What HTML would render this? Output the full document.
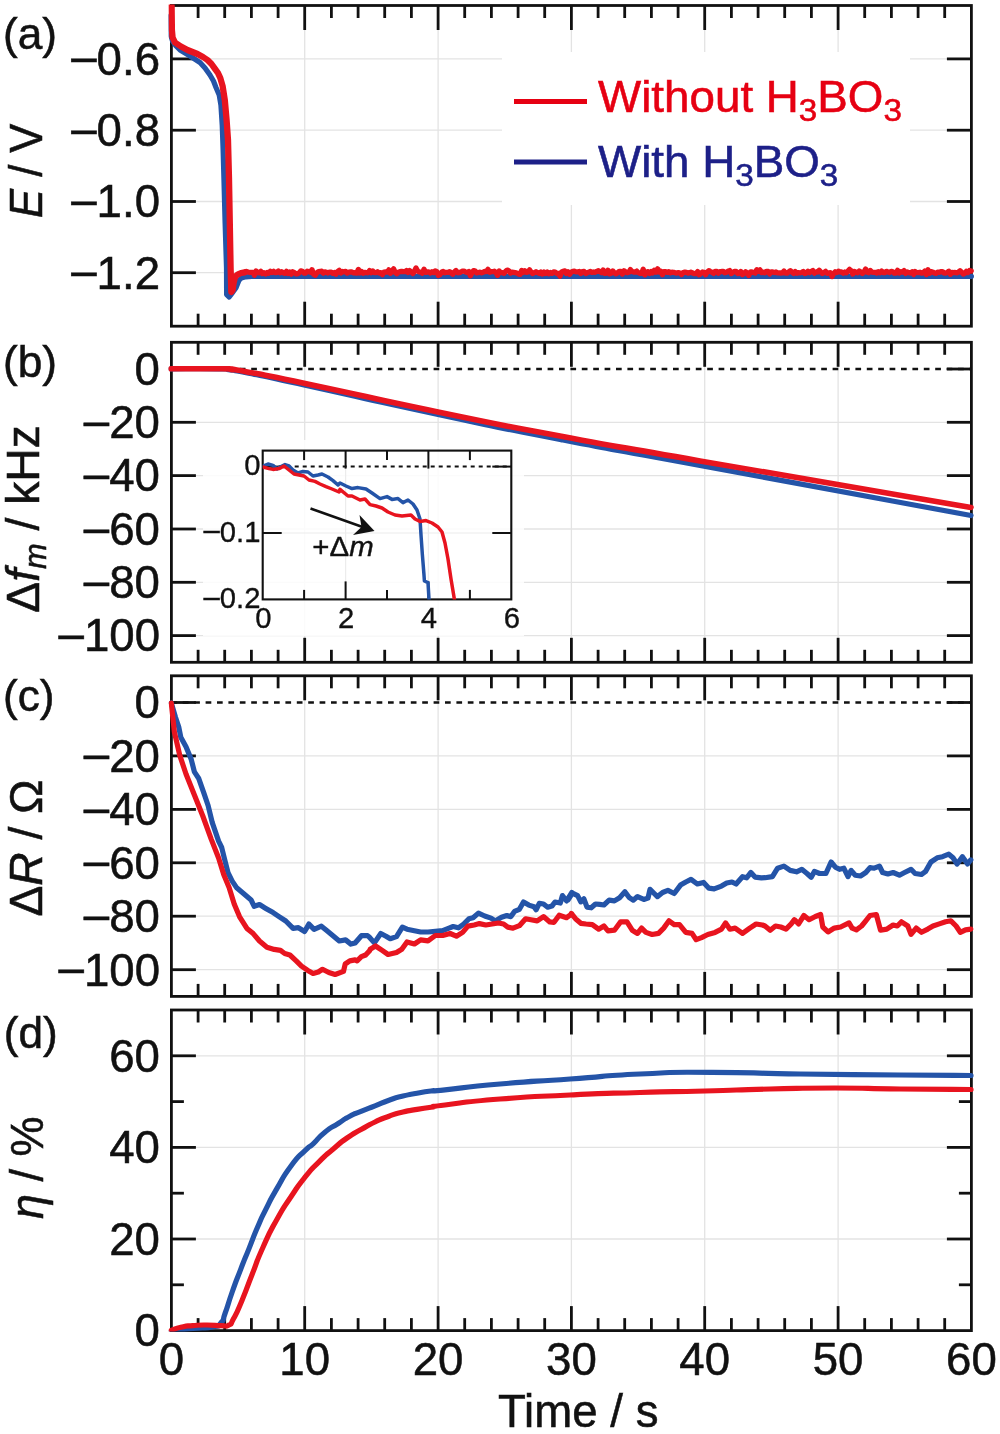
<!DOCTYPE html>
<html lang="en"><head><meta charset="utf-8"><title>Figure</title>
<style>html,body{margin:0;padding:0;background:#fff}svg{display:block;filter:blur(0.55px)}</style></head>
<body>
<svg width="1000" height="1434" viewBox="0 0 1000 1434" font-family="'Liberation Sans', sans-serif">
<rect width="1000" height="1434" fill="#fff"/>
<clipPath id="clipa"><rect x="168.4" y="4.5" width="806.0" height="322.7"/></clipPath>
<clipPath id="clipb"><rect x="168.4" y="341.3" width="806.0" height="322.0"/></clipPath>
<clipPath id="clipc"><rect x="168.4" y="674.8" width="806.0" height="322.6"/></clipPath>
<clipPath id="clipd"><rect x="168.4" y="1009.0" width="806.0" height="322.6"/></clipPath>
<line x1="304.7" y1="5.5" x2="304.7" y2="326.2" stroke="#e3e3e3" stroke-width="1.3" />
<line x1="438.1" y1="5.5" x2="438.1" y2="326.2" stroke="#e3e3e3" stroke-width="1.3" />
<line x1="571.4" y1="5.5" x2="571.4" y2="326.2" stroke="#e3e3e3" stroke-width="1.3" />
<line x1="704.7" y1="5.5" x2="704.7" y2="326.2" stroke="#e3e3e3" stroke-width="1.3" />
<line x1="838.1" y1="5.5" x2="838.1" y2="326.2" stroke="#e3e3e3" stroke-width="1.3" />
<line x1="171.4" y1="58.9" x2="971.4" y2="58.9" stroke="#e3e3e3" stroke-width="1.3" />
<line x1="171.4" y1="130.2" x2="971.4" y2="130.2" stroke="#e3e3e3" stroke-width="1.3" />
<line x1="171.4" y1="201.5" x2="971.4" y2="201.5" stroke="#e3e3e3" stroke-width="1.3" />
<line x1="171.4" y1="272.7" x2="971.4" y2="272.7" stroke="#e3e3e3" stroke-width="1.3" />
<rect x="502" y="52" width="408" height="153" fill="#fff"/>
<line x1="198.1" y1="326.2" x2="198.1" y2="313.7" stroke="#111111" stroke-width="2.8" />
<line x1="198.1" y1="5.5" x2="198.1" y2="18.0" stroke="#111111" stroke-width="2.8" />
<line x1="224.7" y1="326.2" x2="224.7" y2="313.7" stroke="#111111" stroke-width="2.8" />
<line x1="224.7" y1="5.5" x2="224.7" y2="18.0" stroke="#111111" stroke-width="2.8" />
<line x1="251.4" y1="326.2" x2="251.4" y2="313.7" stroke="#111111" stroke-width="2.8" />
<line x1="251.4" y1="5.5" x2="251.4" y2="18.0" stroke="#111111" stroke-width="2.8" />
<line x1="278.1" y1="326.2" x2="278.1" y2="313.7" stroke="#111111" stroke-width="2.8" />
<line x1="278.1" y1="5.5" x2="278.1" y2="18.0" stroke="#111111" stroke-width="2.8" />
<line x1="304.7" y1="326.2" x2="304.7" y2="301.7" stroke="#111111" stroke-width="2.8" />
<line x1="304.7" y1="5.5" x2="304.7" y2="30.0" stroke="#111111" stroke-width="2.8" />
<line x1="331.4" y1="326.2" x2="331.4" y2="313.7" stroke="#111111" stroke-width="2.8" />
<line x1="331.4" y1="5.5" x2="331.4" y2="18.0" stroke="#111111" stroke-width="2.8" />
<line x1="358.1" y1="326.2" x2="358.1" y2="313.7" stroke="#111111" stroke-width="2.8" />
<line x1="358.1" y1="5.5" x2="358.1" y2="18.0" stroke="#111111" stroke-width="2.8" />
<line x1="384.7" y1="326.2" x2="384.7" y2="313.7" stroke="#111111" stroke-width="2.8" />
<line x1="384.7" y1="5.5" x2="384.7" y2="18.0" stroke="#111111" stroke-width="2.8" />
<line x1="411.4" y1="326.2" x2="411.4" y2="313.7" stroke="#111111" stroke-width="2.8" />
<line x1="411.4" y1="5.5" x2="411.4" y2="18.0" stroke="#111111" stroke-width="2.8" />
<line x1="438.1" y1="326.2" x2="438.1" y2="301.7" stroke="#111111" stroke-width="2.8" />
<line x1="438.1" y1="5.5" x2="438.1" y2="30.0" stroke="#111111" stroke-width="2.8" />
<line x1="464.7" y1="326.2" x2="464.7" y2="313.7" stroke="#111111" stroke-width="2.8" />
<line x1="464.7" y1="5.5" x2="464.7" y2="18.0" stroke="#111111" stroke-width="2.8" />
<line x1="491.4" y1="326.2" x2="491.4" y2="313.7" stroke="#111111" stroke-width="2.8" />
<line x1="491.4" y1="5.5" x2="491.4" y2="18.0" stroke="#111111" stroke-width="2.8" />
<line x1="518.1" y1="326.2" x2="518.1" y2="313.7" stroke="#111111" stroke-width="2.8" />
<line x1="518.1" y1="5.5" x2="518.1" y2="18.0" stroke="#111111" stroke-width="2.8" />
<line x1="544.7" y1="326.2" x2="544.7" y2="313.7" stroke="#111111" stroke-width="2.8" />
<line x1="544.7" y1="5.5" x2="544.7" y2="18.0" stroke="#111111" stroke-width="2.8" />
<line x1="571.4" y1="326.2" x2="571.4" y2="301.7" stroke="#111111" stroke-width="2.8" />
<line x1="571.4" y1="5.5" x2="571.4" y2="30.0" stroke="#111111" stroke-width="2.8" />
<line x1="598.1" y1="326.2" x2="598.1" y2="313.7" stroke="#111111" stroke-width="2.8" />
<line x1="598.1" y1="5.5" x2="598.1" y2="18.0" stroke="#111111" stroke-width="2.8" />
<line x1="624.7" y1="326.2" x2="624.7" y2="313.7" stroke="#111111" stroke-width="2.8" />
<line x1="624.7" y1="5.5" x2="624.7" y2="18.0" stroke="#111111" stroke-width="2.8" />
<line x1="651.4" y1="326.2" x2="651.4" y2="313.7" stroke="#111111" stroke-width="2.8" />
<line x1="651.4" y1="5.5" x2="651.4" y2="18.0" stroke="#111111" stroke-width="2.8" />
<line x1="678.1" y1="326.2" x2="678.1" y2="313.7" stroke="#111111" stroke-width="2.8" />
<line x1="678.1" y1="5.5" x2="678.1" y2="18.0" stroke="#111111" stroke-width="2.8" />
<line x1="704.7" y1="326.2" x2="704.7" y2="301.7" stroke="#111111" stroke-width="2.8" />
<line x1="704.7" y1="5.5" x2="704.7" y2="30.0" stroke="#111111" stroke-width="2.8" />
<line x1="731.4" y1="326.2" x2="731.4" y2="313.7" stroke="#111111" stroke-width="2.8" />
<line x1="731.4" y1="5.5" x2="731.4" y2="18.0" stroke="#111111" stroke-width="2.8" />
<line x1="758.1" y1="326.2" x2="758.1" y2="313.7" stroke="#111111" stroke-width="2.8" />
<line x1="758.1" y1="5.5" x2="758.1" y2="18.0" stroke="#111111" stroke-width="2.8" />
<line x1="784.7" y1="326.2" x2="784.7" y2="313.7" stroke="#111111" stroke-width="2.8" />
<line x1="784.7" y1="5.5" x2="784.7" y2="18.0" stroke="#111111" stroke-width="2.8" />
<line x1="811.4" y1="326.2" x2="811.4" y2="313.7" stroke="#111111" stroke-width="2.8" />
<line x1="811.4" y1="5.5" x2="811.4" y2="18.0" stroke="#111111" stroke-width="2.8" />
<line x1="838.1" y1="326.2" x2="838.1" y2="301.7" stroke="#111111" stroke-width="2.8" />
<line x1="838.1" y1="5.5" x2="838.1" y2="30.0" stroke="#111111" stroke-width="2.8" />
<line x1="864.7" y1="326.2" x2="864.7" y2="313.7" stroke="#111111" stroke-width="2.8" />
<line x1="864.7" y1="5.5" x2="864.7" y2="18.0" stroke="#111111" stroke-width="2.8" />
<line x1="891.4" y1="326.2" x2="891.4" y2="313.7" stroke="#111111" stroke-width="2.8" />
<line x1="891.4" y1="5.5" x2="891.4" y2="18.0" stroke="#111111" stroke-width="2.8" />
<line x1="918.1" y1="326.2" x2="918.1" y2="313.7" stroke="#111111" stroke-width="2.8" />
<line x1="918.1" y1="5.5" x2="918.1" y2="18.0" stroke="#111111" stroke-width="2.8" />
<line x1="944.7" y1="326.2" x2="944.7" y2="313.7" stroke="#111111" stroke-width="2.8" />
<line x1="944.7" y1="5.5" x2="944.7" y2="18.0" stroke="#111111" stroke-width="2.8" />
<line x1="171.4" y1="58.9" x2="195.9" y2="58.9" stroke="#111111" stroke-width="2.8" />
<line x1="971.4" y1="58.9" x2="946.9" y2="58.9" stroke="#111111" stroke-width="2.8" />
<line x1="171.4" y1="130.2" x2="195.9" y2="130.2" stroke="#111111" stroke-width="2.8" />
<line x1="971.4" y1="130.2" x2="946.9" y2="130.2" stroke="#111111" stroke-width="2.8" />
<line x1="171.4" y1="201.5" x2="195.9" y2="201.5" stroke="#111111" stroke-width="2.8" />
<line x1="971.4" y1="201.5" x2="946.9" y2="201.5" stroke="#111111" stroke-width="2.8" />
<line x1="171.4" y1="272.7" x2="195.9" y2="272.7" stroke="#111111" stroke-width="2.8" />
<line x1="971.4" y1="272.7" x2="946.9" y2="272.7" stroke="#111111" stroke-width="2.8" />
<rect x="171.4" y="5.5" width="800.0" height="320.7" fill="none" stroke="#111111" stroke-width="2.8"/>
<text transform="translate(160.0 74.7) scale(0.975 1)" font-size="46.8" text-anchor="end" fill="#111111" stroke="#111111" stroke-width="0.55" ><tspan dy="-2.3">–</tspan><tspan dy="2.3">0.6</tspan></text>
<text transform="translate(160.0 146.0) scale(0.975 1)" font-size="46.8" text-anchor="end" fill="#111111" stroke="#111111" stroke-width="0.55" ><tspan dy="-2.3">–</tspan><tspan dy="2.3">0.8</tspan></text>
<text transform="translate(160.0 217.3) scale(0.975 1)" font-size="46.8" text-anchor="end" fill="#111111" stroke="#111111" stroke-width="0.55" ><tspan dy="-2.3">–</tspan><tspan dy="2.3">1.0</tspan></text>
<text transform="translate(160.0 288.5) scale(0.975 1)" font-size="46.8" text-anchor="end" fill="#111111" stroke="#111111" stroke-width="0.55" ><tspan dy="-2.3">–</tspan><tspan dy="2.3">1.2</tspan></text>
<g clip-path="url(#clipa)">
<polyline points="170.8,15.6 171.0,36.0 172.5,41.0 176.0,46.0 180.0,50.0 190.0,56.0 200.0,62.5 205.0,68.0 210.0,75.0 213.5,81.0 216.0,87.5 219.2,95.0 220.9,105.0 222.2,125.0 223.1,150.0 223.9,178.5 225.1,223.0 226.5,268.0 226.6,294.6 229.2,297.0 231.0,294.6 235.9,288.0 238.9,280.5 241.4,278.0 245.7,276.8 251.7,276.3 257.7,276.3 263.7,276.3 269.7,276.3 275.7,276.3 281.7,276.3 287.7,276.3 293.7,276.3 299.7,276.3 305.7,276.3 311.7,276.3 317.7,276.3 323.7,276.3 329.7,276.3 335.7,276.3 341.7,276.3 347.7,276.3 353.7,276.3 359.7,276.3 365.7,276.3 371.7,276.3 377.7,276.3 383.7,276.3 389.7,276.3 395.7,276.3 401.7,276.3 407.7,276.3 413.7,276.3 419.7,276.3 425.7,276.3 431.7,276.3 437.7,276.3 443.7,276.3 449.7,276.3 455.7,276.3 461.7,276.3 467.7,276.3 473.7,276.3 479.7,276.3 485.7,276.3 491.7,276.3 497.7,276.3 503.7,276.3 509.7,276.3 515.7,276.3 521.7,276.3 527.7,276.3 533.7,276.3 539.7,276.3 545.7,276.3 551.7,276.3 557.7,276.3 563.7,276.3 569.7,276.3 575.7,276.3 581.7,276.3 587.7,276.3 593.7,276.3 599.7,276.3 605.7,276.3 611.7,276.3 617.7,276.3 623.7,276.3 629.7,276.3 635.7,276.3 641.7,276.3 647.7,276.3 653.7,276.3 659.7,276.3 665.7,276.3 671.7,276.3 677.7,276.3 683.7,276.3 689.7,276.3 695.7,276.3 701.7,276.3 707.7,276.3 713.7,276.3 719.7,276.3 725.7,276.3 731.7,276.3 737.7,276.3 743.7,276.3 749.7,276.3 755.7,276.3 761.7,276.3 767.7,276.3 773.7,276.3 779.7,276.3 785.7,276.3 791.7,276.3 797.7,276.3 803.7,276.3 809.7,276.3 815.7,276.3 821.7,276.3 827.7,276.3 833.7,276.3 839.7,276.3 845.7,276.3 851.7,276.3 857.7,276.3 863.7,276.3 869.7,276.3 875.7,276.3 881.7,276.3 887.7,276.3 893.7,276.3 899.7,276.3 905.7,276.3 911.7,276.3 917.7,276.3 923.7,276.3 929.7,276.3 935.7,276.3 941.7,276.3 947.7,276.3 953.7,276.3 959.7,276.3 965.7,276.3 971.4,276.3" fill="none" stroke="#2454a8" stroke-width="5.2" stroke-linejoin="round" stroke-linecap="round" />
<polyline points="171.6,5.6 171.9,30.0 172.6,37.5 175.0,42.5 181.0,46.5 187.5,50.0 197.5,54.0 203.0,57.0 207.5,60.0 211.5,64.0 215.0,68.8 218.0,73.0 220.3,78.0 222.6,86.0 224.8,100.0 226.6,120.0 228.0,140.0 229.0,178.5 229.8,223.0 230.6,268.0 231.3,292.0 232.6,290.0 233.6,283.0 234.8,277.8 236.3,275.5 238.1,274.3 241.0,273.0 244.8,272.3" fill="none" stroke="#e8141f" stroke-width="6.3" stroke-linejoin="round" stroke-linecap="round" />
<polyline points="244.8,272.3 246.4,271.4 248.0,272.0 249.6,272.3 251.2,272.3 252.8,272.5 254.4,275.2 256.0,270.9 257.6,272.4 259.2,272.9 260.8,271.4 262.4,273.6 264.0,272.8 265.6,274.0 267.2,272.5 268.8,273.2 270.4,271.2 272.0,272.5 273.6,271.3 275.2,272.6 276.8,272.5 278.4,271.0 280.0,272.7 281.6,271.6 283.2,272.7 284.8,273.3 286.4,271.4 288.0,273.5 289.6,272.1 291.2,274.1 292.8,271.8 294.4,272.6 296.0,273.8 297.6,273.8 299.2,272.9 300.8,270.9 302.4,271.3 304.0,273.1 305.6,273.0 307.2,271.2 308.8,271.6 310.4,272.2 312.0,269.7 313.6,274.3 315.2,275.2 316.8,272.9 318.4,271.7 320.0,271.5 321.6,271.2 323.2,273.2 324.8,271.8 326.4,272.3 328.0,273.0 329.6,272.1 331.2,272.2 332.8,273.4 334.4,272.4 336.0,274.3 337.6,271.5 339.2,270.3 340.8,273.0 342.4,271.5 344.0,271.8 345.6,271.4 347.2,273.1 348.8,272.2 350.4,272.0 352.0,272.0 353.6,272.8 355.2,272.6 356.8,273.1 358.4,269.4 360.0,272.9 361.6,271.5 363.2,273.3 364.8,272.3 366.4,272.7 368.0,272.8 369.6,270.6 371.2,272.7 372.8,271.0 374.4,272.7 376.0,272.7 377.6,271.7 379.2,273.0 380.8,272.7 382.4,274.6 384.0,272.2 385.6,272.0 387.2,272.2 388.8,269.9 390.4,273.3 392.0,270.8 393.6,268.8 395.2,272.4 396.8,273.7 398.4,272.3 400.0,271.6 401.6,271.3 403.2,271.6 404.8,271.7 406.4,270.6 408.0,272.4 409.6,270.6 411.2,271.8 412.8,273.6 414.4,271.4 416.0,267.9 417.6,270.9 419.2,271.9 420.8,272.2 422.4,273.2 424.0,269.3 425.6,272.4 427.2,271.9 428.8,271.9 430.4,273.0 432.0,271.8 433.6,272.6 435.2,270.9 436.8,271.7 438.4,275.4 440.0,274.6 441.6,272.2 443.2,271.4 444.8,272.8 446.4,272.3 448.0,272.4 449.6,271.6 451.2,272.9 452.8,274.3 454.4,272.0 456.0,270.5 457.6,272.8 459.2,272.7 460.8,272.0 462.4,271.2 464.0,271.1 465.6,272.0 467.2,272.5 468.8,271.5 470.4,275.7 472.0,272.9 473.6,270.6 475.2,271.1 476.8,272.9 478.4,272.5 480.0,272.2 481.6,272.8 483.2,272.2 484.8,271.3 486.4,271.6 488.0,269.4 489.6,272.2 491.2,271.7 492.8,271.7 494.4,271.2 496.0,272.6 497.6,275.3 499.2,270.9 500.8,272.7 502.4,272.6 504.0,273.3 505.6,271.4 507.2,270.1 508.8,270.7 510.4,273.1 512.0,272.2 513.6,272.4 515.2,272.6 516.8,273.0 518.4,273.9 520.0,274.4 521.6,270.5 523.2,272.5 524.8,270.8 526.4,272.4 528.0,272.0 529.6,269.9 531.2,272.3 532.8,273.6 534.4,272.6 536.0,271.7 537.6,272.7 539.2,273.5 540.8,272.1 542.4,274.0 544.0,272.1 545.6,273.4 547.2,272.1 548.8,273.8 550.4,272.5 552.0,273.4 553.6,271.8 555.2,272.1 556.8,273.6 558.4,273.4 560.0,276.1 561.6,271.9 563.2,271.3 564.8,270.9 566.4,273.5 568.0,271.9 569.6,274.3 571.2,272.2 572.8,271.4 574.4,271.2 576.0,271.9 577.6,271.8 579.2,271.5 580.8,273.5 582.4,271.6 584.0,271.4 585.6,273.5 587.2,272.8 588.8,272.1 590.4,271.4 592.0,272.4 593.6,272.0 595.2,272.3 596.8,271.4 598.4,270.7 600.0,271.8 601.6,272.7 603.2,270.0 604.8,273.3 606.4,273.1 608.0,270.2 609.6,273.8 611.2,273.2 612.8,271.0 614.4,273.0 616.0,273.8 617.6,272.7 619.2,271.4 620.8,271.4 622.4,274.0 624.0,270.8 625.6,271.9 627.2,272.8 628.8,272.3 630.4,269.6 632.0,271.5 633.6,272.0 635.2,272.2 636.8,271.1 638.4,272.6 640.0,273.3 641.6,273.4 643.2,269.2 644.8,274.9 646.4,272.0 648.0,271.7 649.6,273.5 651.2,271.6 652.8,272.9 654.4,270.2 656.0,272.2 657.6,268.8 659.2,272.0 660.8,271.3 662.4,274.7 664.0,271.7 665.6,271.7 667.2,272.5 668.8,271.6 670.4,272.8 672.0,272.2 673.6,272.3 675.2,272.8 676.8,273.0 678.4,272.6 680.0,273.0 681.6,274.5 683.2,272.5 684.8,272.1 686.4,272.4 688.0,273.2 689.6,272.5 691.2,272.2 692.8,273.1 694.4,273.7 696.0,273.5 697.6,271.6 699.2,274.7 700.8,273.2 702.4,272.0 704.0,272.4 705.6,274.6 707.2,272.1 708.8,270.6 710.4,271.6 712.0,272.3 713.6,273.4 715.2,271.3 716.8,271.4 718.4,273.3 720.0,271.6 721.6,271.5 723.2,271.3 724.8,272.8 726.4,272.4 728.0,271.3 729.6,270.6 731.2,273.6 732.8,272.5 734.4,271.3 736.0,271.3 737.6,273.6 739.2,273.4 740.8,271.5 742.4,274.6 744.0,273.5 745.6,271.7 747.2,273.3 748.8,275.4 750.4,272.0 752.0,272.0 753.6,272.5 755.2,273.1 756.8,269.7 758.4,271.3 760.0,269.9 761.6,272.6 763.2,272.2 764.8,272.8 766.4,271.3 768.0,271.4 769.6,273.9 771.2,272.0 772.8,272.0 774.4,272.5 776.0,271.9 777.6,272.9 779.2,272.8 780.8,273.0 782.4,272.9 784.0,271.1 785.6,273.0 787.2,273.1 788.8,271.9 790.4,270.7 792.0,272.2 793.6,273.4 795.2,271.6 796.8,273.2 798.4,272.6 800.0,272.8 801.6,272.5 803.2,271.5 804.8,273.5 806.4,273.2 808.0,271.2 809.6,272.7 811.2,271.5 812.8,270.6 814.4,273.2 816.0,272.0 817.6,272.1 819.2,270.3 820.8,272.1 822.4,273.6 824.0,272.6 825.6,271.4 827.2,273.4 828.8,272.8 830.4,272.7 832.0,276.6 833.6,273.5 835.2,271.8 836.8,272.6 838.4,271.1 840.0,272.0 841.6,272.0 843.2,273.2 844.8,272.0 846.4,272.8 848.0,271.1 849.6,269.4 851.2,270.8 852.8,274.0 854.4,271.5 856.0,272.2 857.6,272.8 859.2,271.1 860.8,272.1 862.4,273.5 864.0,272.1 865.6,269.0 867.2,272.2 868.8,272.7 870.4,270.5 872.0,272.1 873.6,272.3 875.2,272.3 876.8,273.0 878.4,271.6 880.0,272.7 881.6,271.1 883.2,272.5 884.8,272.7 886.4,271.3 888.0,271.9 889.6,272.5 891.2,271.3 892.8,271.8 894.4,273.2 896.0,273.2 897.6,270.4 899.2,272.9 900.8,271.7 902.4,272.1 904.0,270.6 905.6,273.5 907.2,271.9 908.8,272.6 910.4,273.0 912.0,271.9 913.6,274.4 915.2,271.6 916.8,272.7 918.4,272.6 920.0,272.2 921.6,273.2 923.2,272.7 924.8,271.1 926.4,274.5 928.0,269.8 929.6,273.3 931.2,271.7 932.8,272.0 934.4,273.0 936.0,273.3 937.6,272.1 939.2,272.3 940.8,271.7 942.4,271.6 944.0,272.9 945.6,273.1 947.2,272.4 948.8,271.3 950.4,274.3 952.0,272.5 953.6,272.7 955.2,272.5 956.8,272.9 958.4,272.1 960.0,270.8 961.6,272.3 963.2,274.1 964.8,273.4 966.4,271.2 968.0,272.6 969.6,270.5 971.2,271.0" fill="none" stroke="#e8141f" stroke-width="5.3" stroke-linejoin="round" stroke-linecap="round" />
</g>
<line x1="514.0" y1="101.6" x2="587.0" y2="101.6" stroke="#e60012" stroke-width="5" />
<line x1="514.0" y1="162.0" x2="587.0" y2="162.0" stroke="#1d2088" stroke-width="5" />
<text transform="translate(598.0 112.0) scale(1.040 1)" font-size="44" text-anchor="start" fill="#e60012" stroke="#e60012" stroke-width="0.55" >Without H<tspan font-size="32" dy="8.5">3</tspan><tspan dy="-8.5">BO</tspan><tspan font-size="32" dy="8.5">3</tspan></text>
<text transform="translate(598.0 177.0) scale(1.040 1)" font-size="44" text-anchor="start" fill="#1d2088" stroke="#1d2088" stroke-width="0.55" >With H<tspan font-size="32" dy="8.5">3</tspan><tspan dy="-8.5">BO</tspan><tspan font-size="32" dy="8.5">3</tspan></text>
<line x1="304.7" y1="342.3" x2="304.7" y2="662.3" stroke="#e3e3e3" stroke-width="1.3" />
<line x1="438.1" y1="342.3" x2="438.1" y2="662.3" stroke="#e3e3e3" stroke-width="1.3" />
<line x1="571.4" y1="342.3" x2="571.4" y2="662.3" stroke="#e3e3e3" stroke-width="1.3" />
<line x1="704.7" y1="342.3" x2="704.7" y2="662.3" stroke="#e3e3e3" stroke-width="1.3" />
<line x1="838.1" y1="342.3" x2="838.1" y2="662.3" stroke="#e3e3e3" stroke-width="1.3" />
<line x1="171.4" y1="422.3" x2="971.4" y2="422.3" stroke="#e3e3e3" stroke-width="1.3" />
<line x1="171.4" y1="475.6" x2="971.4" y2="475.6" stroke="#e3e3e3" stroke-width="1.3" />
<line x1="171.4" y1="529.0" x2="971.4" y2="529.0" stroke="#e3e3e3" stroke-width="1.3" />
<line x1="171.4" y1="582.3" x2="971.4" y2="582.3" stroke="#e3e3e3" stroke-width="1.3" />
<line x1="171.4" y1="635.6" x2="971.4" y2="635.6" stroke="#e3e3e3" stroke-width="1.3" />
<line x1="198.1" y1="662.3" x2="198.1" y2="649.8" stroke="#111111" stroke-width="2.8" />
<line x1="198.1" y1="342.3" x2="198.1" y2="354.8" stroke="#111111" stroke-width="2.8" />
<line x1="224.7" y1="662.3" x2="224.7" y2="649.8" stroke="#111111" stroke-width="2.8" />
<line x1="224.7" y1="342.3" x2="224.7" y2="354.8" stroke="#111111" stroke-width="2.8" />
<line x1="251.4" y1="662.3" x2="251.4" y2="649.8" stroke="#111111" stroke-width="2.8" />
<line x1="251.4" y1="342.3" x2="251.4" y2="354.8" stroke="#111111" stroke-width="2.8" />
<line x1="278.1" y1="662.3" x2="278.1" y2="649.8" stroke="#111111" stroke-width="2.8" />
<line x1="278.1" y1="342.3" x2="278.1" y2="354.8" stroke="#111111" stroke-width="2.8" />
<line x1="304.7" y1="662.3" x2="304.7" y2="637.8" stroke="#111111" stroke-width="2.8" />
<line x1="304.7" y1="342.3" x2="304.7" y2="366.8" stroke="#111111" stroke-width="2.8" />
<line x1="331.4" y1="662.3" x2="331.4" y2="649.8" stroke="#111111" stroke-width="2.8" />
<line x1="331.4" y1="342.3" x2="331.4" y2="354.8" stroke="#111111" stroke-width="2.8" />
<line x1="358.1" y1="662.3" x2="358.1" y2="649.8" stroke="#111111" stroke-width="2.8" />
<line x1="358.1" y1="342.3" x2="358.1" y2="354.8" stroke="#111111" stroke-width="2.8" />
<line x1="384.7" y1="662.3" x2="384.7" y2="649.8" stroke="#111111" stroke-width="2.8" />
<line x1="384.7" y1="342.3" x2="384.7" y2="354.8" stroke="#111111" stroke-width="2.8" />
<line x1="411.4" y1="662.3" x2="411.4" y2="649.8" stroke="#111111" stroke-width="2.8" />
<line x1="411.4" y1="342.3" x2="411.4" y2="354.8" stroke="#111111" stroke-width="2.8" />
<line x1="438.1" y1="662.3" x2="438.1" y2="637.8" stroke="#111111" stroke-width="2.8" />
<line x1="438.1" y1="342.3" x2="438.1" y2="366.8" stroke="#111111" stroke-width="2.8" />
<line x1="464.7" y1="662.3" x2="464.7" y2="649.8" stroke="#111111" stroke-width="2.8" />
<line x1="464.7" y1="342.3" x2="464.7" y2="354.8" stroke="#111111" stroke-width="2.8" />
<line x1="491.4" y1="662.3" x2="491.4" y2="649.8" stroke="#111111" stroke-width="2.8" />
<line x1="491.4" y1="342.3" x2="491.4" y2="354.8" stroke="#111111" stroke-width="2.8" />
<line x1="518.1" y1="662.3" x2="518.1" y2="649.8" stroke="#111111" stroke-width="2.8" />
<line x1="518.1" y1="342.3" x2="518.1" y2="354.8" stroke="#111111" stroke-width="2.8" />
<line x1="544.7" y1="662.3" x2="544.7" y2="649.8" stroke="#111111" stroke-width="2.8" />
<line x1="544.7" y1="342.3" x2="544.7" y2="354.8" stroke="#111111" stroke-width="2.8" />
<line x1="571.4" y1="662.3" x2="571.4" y2="637.8" stroke="#111111" stroke-width="2.8" />
<line x1="571.4" y1="342.3" x2="571.4" y2="366.8" stroke="#111111" stroke-width="2.8" />
<line x1="598.1" y1="662.3" x2="598.1" y2="649.8" stroke="#111111" stroke-width="2.8" />
<line x1="598.1" y1="342.3" x2="598.1" y2="354.8" stroke="#111111" stroke-width="2.8" />
<line x1="624.7" y1="662.3" x2="624.7" y2="649.8" stroke="#111111" stroke-width="2.8" />
<line x1="624.7" y1="342.3" x2="624.7" y2="354.8" stroke="#111111" stroke-width="2.8" />
<line x1="651.4" y1="662.3" x2="651.4" y2="649.8" stroke="#111111" stroke-width="2.8" />
<line x1="651.4" y1="342.3" x2="651.4" y2="354.8" stroke="#111111" stroke-width="2.8" />
<line x1="678.1" y1="662.3" x2="678.1" y2="649.8" stroke="#111111" stroke-width="2.8" />
<line x1="678.1" y1="342.3" x2="678.1" y2="354.8" stroke="#111111" stroke-width="2.8" />
<line x1="704.7" y1="662.3" x2="704.7" y2="637.8" stroke="#111111" stroke-width="2.8" />
<line x1="704.7" y1="342.3" x2="704.7" y2="366.8" stroke="#111111" stroke-width="2.8" />
<line x1="731.4" y1="662.3" x2="731.4" y2="649.8" stroke="#111111" stroke-width="2.8" />
<line x1="731.4" y1="342.3" x2="731.4" y2="354.8" stroke="#111111" stroke-width="2.8" />
<line x1="758.1" y1="662.3" x2="758.1" y2="649.8" stroke="#111111" stroke-width="2.8" />
<line x1="758.1" y1="342.3" x2="758.1" y2="354.8" stroke="#111111" stroke-width="2.8" />
<line x1="784.7" y1="662.3" x2="784.7" y2="649.8" stroke="#111111" stroke-width="2.8" />
<line x1="784.7" y1="342.3" x2="784.7" y2="354.8" stroke="#111111" stroke-width="2.8" />
<line x1="811.4" y1="662.3" x2="811.4" y2="649.8" stroke="#111111" stroke-width="2.8" />
<line x1="811.4" y1="342.3" x2="811.4" y2="354.8" stroke="#111111" stroke-width="2.8" />
<line x1="838.1" y1="662.3" x2="838.1" y2="637.8" stroke="#111111" stroke-width="2.8" />
<line x1="838.1" y1="342.3" x2="838.1" y2="366.8" stroke="#111111" stroke-width="2.8" />
<line x1="864.7" y1="662.3" x2="864.7" y2="649.8" stroke="#111111" stroke-width="2.8" />
<line x1="864.7" y1="342.3" x2="864.7" y2="354.8" stroke="#111111" stroke-width="2.8" />
<line x1="891.4" y1="662.3" x2="891.4" y2="649.8" stroke="#111111" stroke-width="2.8" />
<line x1="891.4" y1="342.3" x2="891.4" y2="354.8" stroke="#111111" stroke-width="2.8" />
<line x1="918.1" y1="662.3" x2="918.1" y2="649.8" stroke="#111111" stroke-width="2.8" />
<line x1="918.1" y1="342.3" x2="918.1" y2="354.8" stroke="#111111" stroke-width="2.8" />
<line x1="944.7" y1="662.3" x2="944.7" y2="649.8" stroke="#111111" stroke-width="2.8" />
<line x1="944.7" y1="342.3" x2="944.7" y2="354.8" stroke="#111111" stroke-width="2.8" />
<line x1="171.4" y1="369.0" x2="195.9" y2="369.0" stroke="#111111" stroke-width="2.8" />
<line x1="971.4" y1="369.0" x2="946.9" y2="369.0" stroke="#111111" stroke-width="2.8" />
<line x1="171.4" y1="422.3" x2="195.9" y2="422.3" stroke="#111111" stroke-width="2.8" />
<line x1="971.4" y1="422.3" x2="946.9" y2="422.3" stroke="#111111" stroke-width="2.8" />
<line x1="171.4" y1="475.6" x2="195.9" y2="475.6" stroke="#111111" stroke-width="2.8" />
<line x1="971.4" y1="475.6" x2="946.9" y2="475.6" stroke="#111111" stroke-width="2.8" />
<line x1="171.4" y1="529.0" x2="195.9" y2="529.0" stroke="#111111" stroke-width="2.8" />
<line x1="971.4" y1="529.0" x2="946.9" y2="529.0" stroke="#111111" stroke-width="2.8" />
<line x1="171.4" y1="582.3" x2="195.9" y2="582.3" stroke="#111111" stroke-width="2.8" />
<line x1="971.4" y1="582.3" x2="946.9" y2="582.3" stroke="#111111" stroke-width="2.8" />
<line x1="171.4" y1="635.6" x2="195.9" y2="635.6" stroke="#111111" stroke-width="2.8" />
<line x1="971.4" y1="635.6" x2="946.9" y2="635.6" stroke="#111111" stroke-width="2.8" />
<rect x="171.4" y="342.3" width="800.0" height="320.0" fill="none" stroke="#111111" stroke-width="2.8"/>
<text transform="translate(160.0 384.8) scale(0.975 1)" font-size="46.8" text-anchor="end" fill="#111111" stroke="#111111" stroke-width="0.55" >0</text>
<text transform="translate(160.0 438.1) scale(0.975 1)" font-size="46.8" text-anchor="end" fill="#111111" stroke="#111111" stroke-width="0.55" ><tspan dy="-2.3">–</tspan><tspan dy="2.3">20</tspan></text>
<text transform="translate(160.0 491.4) scale(0.975 1)" font-size="46.8" text-anchor="end" fill="#111111" stroke="#111111" stroke-width="0.55" ><tspan dy="-2.3">–</tspan><tspan dy="2.3">40</tspan></text>
<text transform="translate(160.0 544.8) scale(0.975 1)" font-size="46.8" text-anchor="end" fill="#111111" stroke="#111111" stroke-width="0.55" ><tspan dy="-2.3">–</tspan><tspan dy="2.3">60</tspan></text>
<text transform="translate(160.0 598.1) scale(0.975 1)" font-size="46.8" text-anchor="end" fill="#111111" stroke="#111111" stroke-width="0.55" ><tspan dy="-2.3">–</tspan><tspan dy="2.3">80</tspan></text>
<text transform="translate(160.0 651.4) scale(0.975 1)" font-size="46.8" text-anchor="end" fill="#111111" stroke="#111111" stroke-width="0.55" ><tspan dy="-2.3">–</tspan><tspan dy="2.3">100</tspan></text>
<g clip-path="url(#clipb)">
<line x1="171.4" y1="369.0" x2="971.4" y2="369.0" stroke="#111111" stroke-width="2.6" stroke-dasharray="5.7 5.7"/>
<path d="M171.0,368.8 C186.7,368.8 198.3,368.4 218.0,368.8 C237.7,369.2 221.0,368.8 230.0,370.0 C239.0,371.2 220.3,367.5 245.0,372.5 C269.7,377.5 239.7,371.0 304.0,385.0 C368.3,399.0 352.7,396.3 438.0,414.5 C523.3,432.7 472.7,422.5 560.0,439.5 C647.3,456.5 563.0,440.1 700.0,465.4 C837.0,490.7 880.7,498.8 971.0,515.5" fill="none" stroke="#2454a8" stroke-width="5.2" stroke-linejoin="round" stroke-linecap="round" />
<path d="M171.0,368.8 C188.0,368.8 201.7,368.5 222.0,368.8 C242.3,369.1 224.3,368.7 232.0,369.6 C239.7,370.5 221.0,367.0 245.0,371.5 C269.0,376.0 239.7,369.7 304.0,383.2 C368.3,396.7 352.7,394.4 438.0,412.0 C523.3,429.6 472.7,419.7 560.0,436.0 C647.3,452.3 563.0,437.1 700.0,460.9 C837.0,484.7 880.7,491.9 971.0,507.4" fill="none" stroke="#e8141f" stroke-width="5.6" stroke-linejoin="round" stroke-linecap="round" />
</g>
<rect x="203" y="440" width="321" height="196" fill="#fff" fill-opacity="0.85"/>
<line x1="345.6" y1="450.6" x2="345.6" y2="599.4" stroke="#ececec" stroke-width="1.2" />
<line x1="428.4" y1="450.6" x2="428.4" y2="599.4" stroke="#ececec" stroke-width="1.2" />
<line x1="262.7" y1="533.0" x2="511.3" y2="533.0" stroke="#ececec" stroke-width="1.2" />
<clipPath id="clipi"><rect x="262.7" y="450.6" width="248.6" height="148.8"/></clipPath>
<line x1="304.1" y1="599.4" x2="304.1" y2="589.9" stroke="#111111" stroke-width="2.0" />
<line x1="304.1" y1="450.6" x2="304.1" y2="460.1" stroke="#111111" stroke-width="2.0" />
<line x1="345.6" y1="599.4" x2="345.6" y2="581.4" stroke="#111111" stroke-width="2.0" />
<line x1="345.6" y1="450.6" x2="345.6" y2="468.6" stroke="#111111" stroke-width="2.0" />
<line x1="387.0" y1="599.4" x2="387.0" y2="589.9" stroke="#111111" stroke-width="2.0" />
<line x1="387.0" y1="450.6" x2="387.0" y2="460.1" stroke="#111111" stroke-width="2.0" />
<line x1="428.4" y1="599.4" x2="428.4" y2="581.4" stroke="#111111" stroke-width="2.0" />
<line x1="428.4" y1="450.6" x2="428.4" y2="468.6" stroke="#111111" stroke-width="2.0" />
<line x1="469.9" y1="599.4" x2="469.9" y2="589.9" stroke="#111111" stroke-width="2.0" />
<line x1="469.9" y1="450.6" x2="469.9" y2="460.1" stroke="#111111" stroke-width="2.0" />
<line x1="262.7" y1="466.6" x2="281.7" y2="466.6" stroke="#111111" stroke-width="2.0" />
<line x1="511.3" y1="466.6" x2="492.3" y2="466.6" stroke="#111111" stroke-width="2.0" />
<line x1="262.7" y1="533.0" x2="281.7" y2="533.0" stroke="#111111" stroke-width="2.0" />
<line x1="511.3" y1="533.0" x2="492.3" y2="533.0" stroke="#111111" stroke-width="2.0" />
<rect x="262.7" y="450.6" width="248.6" height="148.8" fill="none" stroke="#111111" stroke-width="2.1"/>
<g clip-path="url(#clipi)">
<line x1="262.7" y1="466.6" x2="511.3" y2="466.6" stroke="#111111" stroke-width="2.0" stroke-dasharray="4 4"/>
<polyline points="263.0,466.0 268.0,464.0 273.0,465.4 277.0,469.0 280.0,467.0 285.0,464.6 289.0,466.0 293.0,470.0 298.0,473.0 303.0,471.4 308.0,472.0 313.0,476.0 318.0,475.0 322.0,474.0 328.0,477.0 333.0,480.6 338.0,485.0 340.0,483.0 346.0,486.0 352.0,488.6 358.0,487.6 366.0,489.0 372.0,493.0 380.0,498.6 387.0,496.6 392.0,499.4 398.0,498.6 403.0,502.6 408.0,500.0 413.0,504.0 417.0,510.0 420.0,519.0 421.0,535.0 422.4,555.0 424.0,575.0 424.4,581.0 428.0,582.6 429.0,599.4" fill="none" stroke="#2454a8" stroke-width="3.5" stroke-linejoin="round" stroke-linecap="round" />
<polyline points="263.0,467.0 269.0,468.6 273.0,469.4 279.0,468.6 284.0,466.0 289.0,470.0 294.0,474.0 299.0,475.0 304.0,476.0 309.0,480.0 315.0,481.4 320.0,484.0 326.0,486.6 332.0,489.0 339.0,492.0 340.0,489.4 348.0,496.0 352.0,496.0 360.0,500.0 365.0,499.0 370.0,504.6 376.0,506.0 382.0,508.0 388.0,512.0 395.0,515.0 402.0,516.0 411.0,515.0 415.0,519.0 420.0,521.4 426.0,520.6 432.0,523.0 438.0,527.0 442.0,532.0 445.0,543.0 448.0,559.0 451.0,579.0 454.4,599.4" fill="none" stroke="#e8141f" stroke-width="3.5" stroke-linejoin="round" stroke-linecap="round" />
</g>
<text transform="translate(260.5 474.5) scale(0.975 1)" font-size="30" text-anchor="end" fill="#111111" stroke="#111111" stroke-width="0.35" >0</text>
<text transform="translate(260.5 541.5) scale(0.975 1)" font-size="30" text-anchor="end" fill="#111111" stroke="#111111" stroke-width="0.35" ><tspan dy="-1.5">–</tspan><tspan dy="1.5">0.1</tspan></text>
<text transform="translate(260.5 608.2) scale(0.975 1)" font-size="30" text-anchor="end" fill="#111111" stroke="#111111" stroke-width="0.35" ><tspan dy="-1.5">–</tspan><tspan dy="1.5">0.2</tspan></text>
<text transform="translate(263.3 628.2) scale(0.975 1)" font-size="30" text-anchor="middle" fill="#111111" stroke="#111111" stroke-width="0.35" >0</text>
<text transform="translate(346.2 628.2) scale(0.975 1)" font-size="30" text-anchor="middle" fill="#111111" stroke="#111111" stroke-width="0.35" >2</text>
<text transform="translate(429.0 628.2) scale(0.975 1)" font-size="30" text-anchor="middle" fill="#111111" stroke="#111111" stroke-width="0.35" >4</text>
<text transform="translate(511.9 628.2) scale(0.975 1)" font-size="30" text-anchor="middle" fill="#111111" stroke="#111111" stroke-width="0.35" >6</text>
<line x1="310.5" y1="508.5" x2="364.0" y2="527.5" stroke="#111111" stroke-width="2.5" />
<polygon points="374.5,531 353,535 361.5,527 359.5,515" fill="#111111"/>
<text transform="translate(312.3 556.2) scale(1.090 1)" font-size="27" text-anchor="start" fill="#111111" stroke="#111111" stroke-width="0.35" >+Δ<tspan font-style="italic">m</tspan></text>
<line x1="304.7" y1="675.8" x2="304.7" y2="996.4" stroke="#e3e3e3" stroke-width="1.3" />
<line x1="438.1" y1="675.8" x2="438.1" y2="996.4" stroke="#e3e3e3" stroke-width="1.3" />
<line x1="571.4" y1="675.8" x2="571.4" y2="996.4" stroke="#e3e3e3" stroke-width="1.3" />
<line x1="704.7" y1="675.8" x2="704.7" y2="996.4" stroke="#e3e3e3" stroke-width="1.3" />
<line x1="838.1" y1="675.8" x2="838.1" y2="996.4" stroke="#e3e3e3" stroke-width="1.3" />
<line x1="171.4" y1="755.9" x2="971.4" y2="755.9" stroke="#e3e3e3" stroke-width="1.3" />
<line x1="171.4" y1="809.4" x2="971.4" y2="809.4" stroke="#e3e3e3" stroke-width="1.3" />
<line x1="171.4" y1="862.8" x2="971.4" y2="862.8" stroke="#e3e3e3" stroke-width="1.3" />
<line x1="171.4" y1="916.2" x2="971.4" y2="916.2" stroke="#e3e3e3" stroke-width="1.3" />
<line x1="171.4" y1="969.7" x2="971.4" y2="969.7" stroke="#e3e3e3" stroke-width="1.3" />
<line x1="198.1" y1="996.4" x2="198.1" y2="983.9" stroke="#111111" stroke-width="2.8" />
<line x1="198.1" y1="675.8" x2="198.1" y2="688.3" stroke="#111111" stroke-width="2.8" />
<line x1="224.7" y1="996.4" x2="224.7" y2="983.9" stroke="#111111" stroke-width="2.8" />
<line x1="224.7" y1="675.8" x2="224.7" y2="688.3" stroke="#111111" stroke-width="2.8" />
<line x1="251.4" y1="996.4" x2="251.4" y2="983.9" stroke="#111111" stroke-width="2.8" />
<line x1="251.4" y1="675.8" x2="251.4" y2="688.3" stroke="#111111" stroke-width="2.8" />
<line x1="278.1" y1="996.4" x2="278.1" y2="983.9" stroke="#111111" stroke-width="2.8" />
<line x1="278.1" y1="675.8" x2="278.1" y2="688.3" stroke="#111111" stroke-width="2.8" />
<line x1="304.7" y1="996.4" x2="304.7" y2="971.9" stroke="#111111" stroke-width="2.8" />
<line x1="304.7" y1="675.8" x2="304.7" y2="700.3" stroke="#111111" stroke-width="2.8" />
<line x1="331.4" y1="996.4" x2="331.4" y2="983.9" stroke="#111111" stroke-width="2.8" />
<line x1="331.4" y1="675.8" x2="331.4" y2="688.3" stroke="#111111" stroke-width="2.8" />
<line x1="358.1" y1="996.4" x2="358.1" y2="983.9" stroke="#111111" stroke-width="2.8" />
<line x1="358.1" y1="675.8" x2="358.1" y2="688.3" stroke="#111111" stroke-width="2.8" />
<line x1="384.7" y1="996.4" x2="384.7" y2="983.9" stroke="#111111" stroke-width="2.8" />
<line x1="384.7" y1="675.8" x2="384.7" y2="688.3" stroke="#111111" stroke-width="2.8" />
<line x1="411.4" y1="996.4" x2="411.4" y2="983.9" stroke="#111111" stroke-width="2.8" />
<line x1="411.4" y1="675.8" x2="411.4" y2="688.3" stroke="#111111" stroke-width="2.8" />
<line x1="438.1" y1="996.4" x2="438.1" y2="971.9" stroke="#111111" stroke-width="2.8" />
<line x1="438.1" y1="675.8" x2="438.1" y2="700.3" stroke="#111111" stroke-width="2.8" />
<line x1="464.7" y1="996.4" x2="464.7" y2="983.9" stroke="#111111" stroke-width="2.8" />
<line x1="464.7" y1="675.8" x2="464.7" y2="688.3" stroke="#111111" stroke-width="2.8" />
<line x1="491.4" y1="996.4" x2="491.4" y2="983.9" stroke="#111111" stroke-width="2.8" />
<line x1="491.4" y1="675.8" x2="491.4" y2="688.3" stroke="#111111" stroke-width="2.8" />
<line x1="518.1" y1="996.4" x2="518.1" y2="983.9" stroke="#111111" stroke-width="2.8" />
<line x1="518.1" y1="675.8" x2="518.1" y2="688.3" stroke="#111111" stroke-width="2.8" />
<line x1="544.7" y1="996.4" x2="544.7" y2="983.9" stroke="#111111" stroke-width="2.8" />
<line x1="544.7" y1="675.8" x2="544.7" y2="688.3" stroke="#111111" stroke-width="2.8" />
<line x1="571.4" y1="996.4" x2="571.4" y2="971.9" stroke="#111111" stroke-width="2.8" />
<line x1="571.4" y1="675.8" x2="571.4" y2="700.3" stroke="#111111" stroke-width="2.8" />
<line x1="598.1" y1="996.4" x2="598.1" y2="983.9" stroke="#111111" stroke-width="2.8" />
<line x1="598.1" y1="675.8" x2="598.1" y2="688.3" stroke="#111111" stroke-width="2.8" />
<line x1="624.7" y1="996.4" x2="624.7" y2="983.9" stroke="#111111" stroke-width="2.8" />
<line x1="624.7" y1="675.8" x2="624.7" y2="688.3" stroke="#111111" stroke-width="2.8" />
<line x1="651.4" y1="996.4" x2="651.4" y2="983.9" stroke="#111111" stroke-width="2.8" />
<line x1="651.4" y1="675.8" x2="651.4" y2="688.3" stroke="#111111" stroke-width="2.8" />
<line x1="678.1" y1="996.4" x2="678.1" y2="983.9" stroke="#111111" stroke-width="2.8" />
<line x1="678.1" y1="675.8" x2="678.1" y2="688.3" stroke="#111111" stroke-width="2.8" />
<line x1="704.7" y1="996.4" x2="704.7" y2="971.9" stroke="#111111" stroke-width="2.8" />
<line x1="704.7" y1="675.8" x2="704.7" y2="700.3" stroke="#111111" stroke-width="2.8" />
<line x1="731.4" y1="996.4" x2="731.4" y2="983.9" stroke="#111111" stroke-width="2.8" />
<line x1="731.4" y1="675.8" x2="731.4" y2="688.3" stroke="#111111" stroke-width="2.8" />
<line x1="758.1" y1="996.4" x2="758.1" y2="983.9" stroke="#111111" stroke-width="2.8" />
<line x1="758.1" y1="675.8" x2="758.1" y2="688.3" stroke="#111111" stroke-width="2.8" />
<line x1="784.7" y1="996.4" x2="784.7" y2="983.9" stroke="#111111" stroke-width="2.8" />
<line x1="784.7" y1="675.8" x2="784.7" y2="688.3" stroke="#111111" stroke-width="2.8" />
<line x1="811.4" y1="996.4" x2="811.4" y2="983.9" stroke="#111111" stroke-width="2.8" />
<line x1="811.4" y1="675.8" x2="811.4" y2="688.3" stroke="#111111" stroke-width="2.8" />
<line x1="838.1" y1="996.4" x2="838.1" y2="971.9" stroke="#111111" stroke-width="2.8" />
<line x1="838.1" y1="675.8" x2="838.1" y2="700.3" stroke="#111111" stroke-width="2.8" />
<line x1="864.7" y1="996.4" x2="864.7" y2="983.9" stroke="#111111" stroke-width="2.8" />
<line x1="864.7" y1="675.8" x2="864.7" y2="688.3" stroke="#111111" stroke-width="2.8" />
<line x1="891.4" y1="996.4" x2="891.4" y2="983.9" stroke="#111111" stroke-width="2.8" />
<line x1="891.4" y1="675.8" x2="891.4" y2="688.3" stroke="#111111" stroke-width="2.8" />
<line x1="918.1" y1="996.4" x2="918.1" y2="983.9" stroke="#111111" stroke-width="2.8" />
<line x1="918.1" y1="675.8" x2="918.1" y2="688.3" stroke="#111111" stroke-width="2.8" />
<line x1="944.7" y1="996.4" x2="944.7" y2="983.9" stroke="#111111" stroke-width="2.8" />
<line x1="944.7" y1="675.8" x2="944.7" y2="688.3" stroke="#111111" stroke-width="2.8" />
<line x1="171.4" y1="702.5" x2="195.9" y2="702.5" stroke="#111111" stroke-width="2.8" />
<line x1="971.4" y1="702.5" x2="946.9" y2="702.5" stroke="#111111" stroke-width="2.8" />
<line x1="171.4" y1="755.9" x2="195.9" y2="755.9" stroke="#111111" stroke-width="2.8" />
<line x1="971.4" y1="755.9" x2="946.9" y2="755.9" stroke="#111111" stroke-width="2.8" />
<line x1="171.4" y1="809.4" x2="195.9" y2="809.4" stroke="#111111" stroke-width="2.8" />
<line x1="971.4" y1="809.4" x2="946.9" y2="809.4" stroke="#111111" stroke-width="2.8" />
<line x1="171.4" y1="862.8" x2="195.9" y2="862.8" stroke="#111111" stroke-width="2.8" />
<line x1="971.4" y1="862.8" x2="946.9" y2="862.8" stroke="#111111" stroke-width="2.8" />
<line x1="171.4" y1="916.2" x2="195.9" y2="916.2" stroke="#111111" stroke-width="2.8" />
<line x1="971.4" y1="916.2" x2="946.9" y2="916.2" stroke="#111111" stroke-width="2.8" />
<line x1="171.4" y1="969.7" x2="195.9" y2="969.7" stroke="#111111" stroke-width="2.8" />
<line x1="971.4" y1="969.7" x2="946.9" y2="969.7" stroke="#111111" stroke-width="2.8" />
<rect x="171.4" y="675.8" width="800.0" height="320.6" fill="none" stroke="#111111" stroke-width="2.8"/>
<text transform="translate(160.0 718.3) scale(0.975 1)" font-size="46.8" text-anchor="end" fill="#111111" stroke="#111111" stroke-width="0.55" >0</text>
<text transform="translate(160.0 771.7) scale(0.975 1)" font-size="46.8" text-anchor="end" fill="#111111" stroke="#111111" stroke-width="0.55" ><tspan dy="-2.3">–</tspan><tspan dy="2.3">20</tspan></text>
<text transform="translate(160.0 825.2) scale(0.975 1)" font-size="46.8" text-anchor="end" fill="#111111" stroke="#111111" stroke-width="0.55" ><tspan dy="-2.3">–</tspan><tspan dy="2.3">40</tspan></text>
<text transform="translate(160.0 878.6) scale(0.975 1)" font-size="46.8" text-anchor="end" fill="#111111" stroke="#111111" stroke-width="0.55" ><tspan dy="-2.3">–</tspan><tspan dy="2.3">60</tspan></text>
<text transform="translate(160.0 932.0) scale(0.975 1)" font-size="46.8" text-anchor="end" fill="#111111" stroke="#111111" stroke-width="0.55" ><tspan dy="-2.3">–</tspan><tspan dy="2.3">80</tspan></text>
<text transform="translate(160.0 985.5) scale(0.975 1)" font-size="46.8" text-anchor="end" fill="#111111" stroke="#111111" stroke-width="0.55" ><tspan dy="-2.3">–</tspan><tspan dy="2.3">100</tspan></text>
<g clip-path="url(#clipc)">
<line x1="171.4" y1="702.5" x2="971.4" y2="702.5" stroke="#111111" stroke-width="2.6" stroke-dasharray="5.7 5.7"/>
<polyline points="171.3,703.0 175.5,717.3 178.7,726.8 180.8,737.2 186.0,746.7 191.2,759.3 194.4,771.9 198.6,778.2 203.8,792.9 208.1,805.5 212.2,822.3 218.6,841.2 221.7,847.5 224.8,860.1 228.0,872.7 232.2,881.1 236.4,887.4 243.8,893.7 251.1,900.0 254.2,906.3 259.5,904.6 265.8,908.4 273.1,912.6 279.4,916.8 285.8,921.0 293.1,928.4 298.4,927.7 304.6,931.5 308.9,924.1 314.1,929.4 321.4,926.2 326.7,930.5 333.0,935.7 339.3,941.0 345.6,939.9 350.9,944.1 355.1,943.0 361.4,935.7 367.6,935.7 369.2,937.0 374.4,942.9 380.8,933.5 386.0,936.2 390.2,938.7 396.5,936.6 402.4,927.1 407.0,929.2 414.4,930.7 420.6,932.0 428.0,932.0 435.4,931.4 442.7,930.7 449.0,928.2 453.2,926.5 458.4,927.8 463.7,924.0 468.9,918.8 473.1,917.7 478.4,913.1 484.7,916.0 491.0,918.1 495.2,920.9 501.5,917.3 506.8,915.6 510.9,916.6 514.5,911.4 519.4,909.3 523.5,902.0 528.8,905.1 534.0,906.8 536.1,909.7 539.3,903.4 543.5,904.0 547.7,907.2 551.9,906.1 555.0,902.0 560.3,903.0 562.4,895.6 566.6,900.9 571.9,892.5 568.1,899.8 572.4,893.1 577.6,895.6 580.8,901.9 583.9,898.8 587.0,907.1 591.2,907.8 595.5,904.0 599.6,904.4 603.9,905.0 609.1,900.2 614.4,900.9 619.6,897.7 624.9,891.8 629.0,897.3 633.2,900.2 637.5,896.6 643.8,899.4 648.0,898.1 650.0,889.3 654.2,893.5 657.4,896.6 662.6,892.5 667.9,890.4 674.2,893.5 680.5,885.1 685.8,882.0 691.0,879.4 697.3,884.0 703.6,882.4 708.9,888.2 714.1,888.9 721.5,886.1 726.7,883.0 732.0,882.0 736.1,884.0 742.5,876.7 746.6,877.8 750.9,872.5 755.0,877.1 761.4,877.8 765.0,877.7 772.4,876.6 777.6,868.2 783.9,866.1 790.2,870.4 796.5,871.8 801.8,869.3 807.0,873.5 811.2,877.3 814.4,871.4 819.6,873.5 825.9,873.5 831.1,862.0 835.4,867.2 839.5,869.3 843.8,868.2 848.0,876.6 851.1,870.4 855.3,875.2 860.5,876.0 865.8,872.5 870.0,867.6 874.2,868.2 879.5,866.1 882.6,872.5 887.9,873.9 893.1,872.5 899.4,875.2 904.6,872.5 911.0,869.3 915.1,873.5 921.5,874.5 925.6,871.4 930.9,862.0 937.2,857.8 942.5,856.7 948.8,854.2 953.0,857.8 957.1,864.0 962.4,856.7 967.6,864.0 970.8,859.9" fill="none" stroke="#2454a8" stroke-width="5.2" stroke-linejoin="round" stroke-linecap="round" />
<polyline points="171.3,703.0 174.4,732.0 179.7,755.1 186.0,774.0 194.4,795.0 202.8,816.0 211.2,839.1 218.6,858.0 223.8,874.8 229.1,887.4 234.3,904.2 239.6,916.8 246.9,928.4 253.2,933.6 259.5,941.0 266.9,947.2 274.2,949.4 280.5,950.4 284.7,953.5 289.9,955.0 296.2,960.9 301.5,966.1 307.8,970.4 313.1,973.5 318.3,972.0 322.5,969.3 328.8,972.5 335.1,974.5 343.5,971.4 345.2,964.0 349.8,960.9 355.1,959.9 357.1,960.9 361.4,956.7 365.6,955.0 369.8,950.4 370.2,949.2 375.5,946.0 381.8,950.2 388.1,954.5 396.5,952.4 401.8,949.2 407.0,941.9 414.4,944.0 420.6,939.8 428.0,940.8 435.4,935.5 442.7,935.5 450.1,933.5 456.4,936.2 462.6,932.4 467.9,926.1 474.2,925.0 479.4,923.6 485.8,925.0 492.1,924.0 498.4,923.0 503.6,924.0 507.8,927.1 513.0,928.2 519.4,925.7 525.6,918.8 530.9,919.8 537.2,920.9 543.5,916.6 549.8,921.9 554.0,922.3 559.2,915.2 566.6,917.7 571.9,913.9 571.3,913.5 575.5,918.7 580.8,923.3 586.0,924.0 592.3,924.6 598.6,929.2 603.9,926.0 608.0,930.9 614.4,930.2 620.6,921.9 627.0,921.9 632.2,930.2 637.5,933.4 641.6,928.1 645.9,932.4 652.1,934.5 658.5,933.4 663.7,928.1 669.0,920.8 674.2,924.6 679.5,924.6 685.8,932.4 692.0,933.4 696.2,939.7 701.5,937.6 707.8,934.5 715.1,932.4 721.5,929.2 725.6,922.9 729.9,929.2 735.1,928.1 742.5,933.4 749.8,928.1 756.1,924.0 762.4,925.0 765.0,926.0 770.2,930.2 775.5,926.0 780.8,927.0 786.0,929.1 791.2,923.9 794.4,919.7 798.6,923.9 803.9,915.5 809.1,919.7 815.4,916.5 820.6,914.5 822.8,927.0 828.0,931.9 834.3,928.1 840.6,927.0 849.0,922.9 852.1,928.1 856.4,929.8 861.6,926.0 865.8,920.8 870.0,915.5 876.3,914.5 880.5,930.2 886.8,929.1 893.1,925.0 897.3,926.0 901.5,921.8 907.8,926.0 911.0,934.4 916.2,928.1 921.5,932.3 927.8,929.1 933.0,926.0 939.3,923.9 945.6,921.8 950.9,920.8 956.1,926.0 960.3,932.3 965.5,929.8 970.8,929.1" fill="none" stroke="#e8141f" stroke-width="5.2" stroke-linejoin="round" stroke-linecap="round" />
</g>
<line x1="304.7" y1="1010.0" x2="304.7" y2="1330.6" stroke="#e3e3e3" stroke-width="1.3" />
<line x1="438.1" y1="1010.0" x2="438.1" y2="1330.6" stroke="#e3e3e3" stroke-width="1.3" />
<line x1="571.4" y1="1010.0" x2="571.4" y2="1330.6" stroke="#e3e3e3" stroke-width="1.3" />
<line x1="704.7" y1="1010.0" x2="704.7" y2="1330.6" stroke="#e3e3e3" stroke-width="1.3" />
<line x1="838.1" y1="1010.0" x2="838.1" y2="1330.6" stroke="#e3e3e3" stroke-width="1.3" />
<line x1="171.4" y1="1239.0" x2="971.4" y2="1239.0" stroke="#e3e3e3" stroke-width="1.3" />
<line x1="171.4" y1="1147.4" x2="971.4" y2="1147.4" stroke="#e3e3e3" stroke-width="1.3" />
<line x1="171.4" y1="1055.8" x2="971.4" y2="1055.8" stroke="#e3e3e3" stroke-width="1.3" />
<line x1="198.1" y1="1330.6" x2="198.1" y2="1318.1" stroke="#111111" stroke-width="2.8" />
<line x1="198.1" y1="1010.0" x2="198.1" y2="1022.5" stroke="#111111" stroke-width="2.8" />
<line x1="224.7" y1="1330.6" x2="224.7" y2="1318.1" stroke="#111111" stroke-width="2.8" />
<line x1="224.7" y1="1010.0" x2="224.7" y2="1022.5" stroke="#111111" stroke-width="2.8" />
<line x1="251.4" y1="1330.6" x2="251.4" y2="1318.1" stroke="#111111" stroke-width="2.8" />
<line x1="251.4" y1="1010.0" x2="251.4" y2="1022.5" stroke="#111111" stroke-width="2.8" />
<line x1="278.1" y1="1330.6" x2="278.1" y2="1318.1" stroke="#111111" stroke-width="2.8" />
<line x1="278.1" y1="1010.0" x2="278.1" y2="1022.5" stroke="#111111" stroke-width="2.8" />
<line x1="304.7" y1="1330.6" x2="304.7" y2="1306.1" stroke="#111111" stroke-width="2.8" />
<line x1="304.7" y1="1010.0" x2="304.7" y2="1034.5" stroke="#111111" stroke-width="2.8" />
<line x1="331.4" y1="1330.6" x2="331.4" y2="1318.1" stroke="#111111" stroke-width="2.8" />
<line x1="331.4" y1="1010.0" x2="331.4" y2="1022.5" stroke="#111111" stroke-width="2.8" />
<line x1="358.1" y1="1330.6" x2="358.1" y2="1318.1" stroke="#111111" stroke-width="2.8" />
<line x1="358.1" y1="1010.0" x2="358.1" y2="1022.5" stroke="#111111" stroke-width="2.8" />
<line x1="384.7" y1="1330.6" x2="384.7" y2="1318.1" stroke="#111111" stroke-width="2.8" />
<line x1="384.7" y1="1010.0" x2="384.7" y2="1022.5" stroke="#111111" stroke-width="2.8" />
<line x1="411.4" y1="1330.6" x2="411.4" y2="1318.1" stroke="#111111" stroke-width="2.8" />
<line x1="411.4" y1="1010.0" x2="411.4" y2="1022.5" stroke="#111111" stroke-width="2.8" />
<line x1="438.1" y1="1330.6" x2="438.1" y2="1306.1" stroke="#111111" stroke-width="2.8" />
<line x1="438.1" y1="1010.0" x2="438.1" y2="1034.5" stroke="#111111" stroke-width="2.8" />
<line x1="464.7" y1="1330.6" x2="464.7" y2="1318.1" stroke="#111111" stroke-width="2.8" />
<line x1="464.7" y1="1010.0" x2="464.7" y2="1022.5" stroke="#111111" stroke-width="2.8" />
<line x1="491.4" y1="1330.6" x2="491.4" y2="1318.1" stroke="#111111" stroke-width="2.8" />
<line x1="491.4" y1="1010.0" x2="491.4" y2="1022.5" stroke="#111111" stroke-width="2.8" />
<line x1="518.1" y1="1330.6" x2="518.1" y2="1318.1" stroke="#111111" stroke-width="2.8" />
<line x1="518.1" y1="1010.0" x2="518.1" y2="1022.5" stroke="#111111" stroke-width="2.8" />
<line x1="544.7" y1="1330.6" x2="544.7" y2="1318.1" stroke="#111111" stroke-width="2.8" />
<line x1="544.7" y1="1010.0" x2="544.7" y2="1022.5" stroke="#111111" stroke-width="2.8" />
<line x1="571.4" y1="1330.6" x2="571.4" y2="1306.1" stroke="#111111" stroke-width="2.8" />
<line x1="571.4" y1="1010.0" x2="571.4" y2="1034.5" stroke="#111111" stroke-width="2.8" />
<line x1="598.1" y1="1330.6" x2="598.1" y2="1318.1" stroke="#111111" stroke-width="2.8" />
<line x1="598.1" y1="1010.0" x2="598.1" y2="1022.5" stroke="#111111" stroke-width="2.8" />
<line x1="624.7" y1="1330.6" x2="624.7" y2="1318.1" stroke="#111111" stroke-width="2.8" />
<line x1="624.7" y1="1010.0" x2="624.7" y2="1022.5" stroke="#111111" stroke-width="2.8" />
<line x1="651.4" y1="1330.6" x2="651.4" y2="1318.1" stroke="#111111" stroke-width="2.8" />
<line x1="651.4" y1="1010.0" x2="651.4" y2="1022.5" stroke="#111111" stroke-width="2.8" />
<line x1="678.1" y1="1330.6" x2="678.1" y2="1318.1" stroke="#111111" stroke-width="2.8" />
<line x1="678.1" y1="1010.0" x2="678.1" y2="1022.5" stroke="#111111" stroke-width="2.8" />
<line x1="704.7" y1="1330.6" x2="704.7" y2="1306.1" stroke="#111111" stroke-width="2.8" />
<line x1="704.7" y1="1010.0" x2="704.7" y2="1034.5" stroke="#111111" stroke-width="2.8" />
<line x1="731.4" y1="1330.6" x2="731.4" y2="1318.1" stroke="#111111" stroke-width="2.8" />
<line x1="731.4" y1="1010.0" x2="731.4" y2="1022.5" stroke="#111111" stroke-width="2.8" />
<line x1="758.1" y1="1330.6" x2="758.1" y2="1318.1" stroke="#111111" stroke-width="2.8" />
<line x1="758.1" y1="1010.0" x2="758.1" y2="1022.5" stroke="#111111" stroke-width="2.8" />
<line x1="784.7" y1="1330.6" x2="784.7" y2="1318.1" stroke="#111111" stroke-width="2.8" />
<line x1="784.7" y1="1010.0" x2="784.7" y2="1022.5" stroke="#111111" stroke-width="2.8" />
<line x1="811.4" y1="1330.6" x2="811.4" y2="1318.1" stroke="#111111" stroke-width="2.8" />
<line x1="811.4" y1="1010.0" x2="811.4" y2="1022.5" stroke="#111111" stroke-width="2.8" />
<line x1="838.1" y1="1330.6" x2="838.1" y2="1306.1" stroke="#111111" stroke-width="2.8" />
<line x1="838.1" y1="1010.0" x2="838.1" y2="1034.5" stroke="#111111" stroke-width="2.8" />
<line x1="864.7" y1="1330.6" x2="864.7" y2="1318.1" stroke="#111111" stroke-width="2.8" />
<line x1="864.7" y1="1010.0" x2="864.7" y2="1022.5" stroke="#111111" stroke-width="2.8" />
<line x1="891.4" y1="1330.6" x2="891.4" y2="1318.1" stroke="#111111" stroke-width="2.8" />
<line x1="891.4" y1="1010.0" x2="891.4" y2="1022.5" stroke="#111111" stroke-width="2.8" />
<line x1="918.1" y1="1330.6" x2="918.1" y2="1318.1" stroke="#111111" stroke-width="2.8" />
<line x1="918.1" y1="1010.0" x2="918.1" y2="1022.5" stroke="#111111" stroke-width="2.8" />
<line x1="944.7" y1="1330.6" x2="944.7" y2="1318.1" stroke="#111111" stroke-width="2.8" />
<line x1="944.7" y1="1010.0" x2="944.7" y2="1022.5" stroke="#111111" stroke-width="2.8" />
<line x1="171.4" y1="1239.0" x2="195.9" y2="1239.0" stroke="#111111" stroke-width="2.8" />
<line x1="971.4" y1="1239.0" x2="946.9" y2="1239.0" stroke="#111111" stroke-width="2.8" />
<line x1="171.4" y1="1147.4" x2="195.9" y2="1147.4" stroke="#111111" stroke-width="2.8" />
<line x1="971.4" y1="1147.4" x2="946.9" y2="1147.4" stroke="#111111" stroke-width="2.8" />
<line x1="171.4" y1="1055.8" x2="195.9" y2="1055.8" stroke="#111111" stroke-width="2.8" />
<line x1="971.4" y1="1055.8" x2="946.9" y2="1055.8" stroke="#111111" stroke-width="2.8" />
<line x1="171.4" y1="1284.8" x2="183.9" y2="1284.8" stroke="#111111" stroke-width="2.8" />
<line x1="971.4" y1="1284.8" x2="958.9" y2="1284.8" stroke="#111111" stroke-width="2.8" />
<line x1="171.4" y1="1193.2" x2="183.9" y2="1193.2" stroke="#111111" stroke-width="2.8" />
<line x1="971.4" y1="1193.2" x2="958.9" y2="1193.2" stroke="#111111" stroke-width="2.8" />
<line x1="171.4" y1="1101.6" x2="183.9" y2="1101.6" stroke="#111111" stroke-width="2.8" />
<line x1="971.4" y1="1101.6" x2="958.9" y2="1101.6" stroke="#111111" stroke-width="2.8" />
<rect x="171.4" y="1010.0" width="800.0" height="320.6" fill="none" stroke="#111111" stroke-width="2.8"/>
<text transform="translate(160.0 1346.4) scale(0.975 1)" font-size="46.8" text-anchor="end" fill="#111111" stroke="#111111" stroke-width="0.55" >0</text>
<text transform="translate(160.0 1254.8) scale(0.975 1)" font-size="46.8" text-anchor="end" fill="#111111" stroke="#111111" stroke-width="0.55" >20</text>
<text transform="translate(160.0 1163.2) scale(0.975 1)" font-size="46.8" text-anchor="end" fill="#111111" stroke="#111111" stroke-width="0.55" >40</text>
<text transform="translate(160.0 1071.6) scale(0.975 1)" font-size="46.8" text-anchor="end" fill="#111111" stroke="#111111" stroke-width="0.55" >60</text>
<g clip-path="url(#clipd)">
<path d="M171.2,1331.2 C178.4,1330.3 179.2,1329.8 193.0,1328.4 C206.8,1327.0 203.3,1328.9 212.6,1327.0 C221.9,1325.1 216.8,1327.5 221.0,1322.8 C225.2,1318.1 221.5,1323.3 225.2,1313.0 C228.9,1302.7 227.1,1306.5 232.2,1292.0 C237.3,1277.5 235.0,1284.1 240.6,1269.6 C246.2,1255.1 243.4,1262.6 249.0,1248.6 C254.6,1234.6 251.8,1240.7 257.4,1227.6 C263.0,1214.5 259.3,1222.5 265.8,1209.4 C272.3,1196.3 268.6,1202.9 277.0,1188.4 C285.4,1173.9 281.7,1178.6 291.0,1166.0 C300.3,1153.4 297.5,1158.1 305.0,1150.6 C312.5,1143.1 306.9,1149.7 313.4,1143.6 C319.9,1137.5 316.2,1139.2 324.6,1132.4 C333.0,1125.6 330.2,1128.6 338.6,1123.2 C347.0,1117.7 342.3,1120.1 349.8,1116.2 C357.3,1112.2 352.6,1114.9 361.0,1111.4 C369.4,1107.9 365.7,1109.5 375.0,1105.8 C384.3,1102.1 379.7,1103.5 389.0,1100.2 C398.3,1096.9 393.7,1098.3 403.0,1096.0 C412.3,1093.7 407.7,1094.9 417.0,1093.2 C426.3,1091.5 421.7,1092.1 431.0,1091.0 C440.3,1089.8 422.0,1092.2 445.0,1089.8 C468.0,1087.5 458.3,1087.6 500.0,1084.0 C541.7,1080.4 523.3,1082.3 570.0,1079.0 C616.7,1075.7 592.7,1076.2 640.0,1074.0 C687.3,1071.8 658.7,1072.3 712.0,1072.3 C765.3,1072.3 737.3,1073.1 800.0,1074.0 C862.7,1074.9 843.0,1074.5 900.0,1075.0 C957.0,1075.5 947.3,1075.3 971.0,1075.5" fill="none" stroke="#2454a8" stroke-width="5.2" stroke-linejoin="round" stroke-linecap="round" />
<path d="M171.2,1330.4 C174.7,1329.2 174.5,1328.6 181.8,1327.0 C189.1,1325.4 184.6,1326.3 193.0,1325.6 C201.4,1324.9 197.7,1325.0 207.0,1325.0 C216.3,1325.0 213.7,1325.6 221.0,1325.6 C228.3,1325.6 224.6,1327.4 228.8,1325.0 C233.0,1322.7 229.2,1326.8 233.6,1318.6 C238.0,1310.4 235.9,1314.9 242.0,1300.4 C248.1,1285.9 244.8,1292.9 251.8,1275.2 C258.8,1257.5 254.6,1265.9 263.0,1247.2 C271.4,1228.5 267.7,1236.0 277.0,1219.2 C286.3,1202.4 281.7,1210.8 291.0,1196.8 C300.3,1182.8 295.7,1188.9 305.0,1177.2 C314.3,1165.5 309.7,1171.1 319.0,1161.8 C328.3,1152.5 323.7,1157.1 333.0,1149.2 C342.3,1141.3 337.7,1144.5 347.0,1138.0 C356.3,1131.5 351.7,1134.9 361.0,1129.6 C370.3,1124.3 365.7,1126.5 375.0,1122.0 C384.3,1117.6 379.7,1119.5 389.0,1116.2 C398.3,1112.8 393.7,1114.2 403.0,1112.0 C412.3,1109.7 407.7,1111.0 417.0,1109.4 C426.3,1107.9 421.7,1108.7 431.0,1107.2 C440.3,1105.7 422.0,1107.7 445.0,1105.0 C468.0,1102.2 458.3,1102.3 500.0,1099.0 C541.7,1095.7 523.3,1097.2 570.0,1095.0 C616.7,1092.8 595.0,1093.8 640.0,1092.5 C685.0,1091.2 661.7,1092.2 705.0,1091.0 C748.3,1089.8 726.7,1090.0 770.0,1089.0 C813.3,1088.0 791.7,1088.0 835.0,1088.0 C878.3,1088.0 854.7,1088.5 900.0,1089.0 C945.3,1089.5 947.3,1089.3 971.0,1089.5" fill="none" stroke="#e8141f" stroke-width="5.2" stroke-linejoin="round" stroke-linecap="round" />
</g>
<text transform="translate(171.4 1374.5) scale(0.975 1)" font-size="46.8" text-anchor="middle" fill="#111111" stroke="#111111" stroke-width="0.55" >0</text>
<text transform="translate(304.7 1374.5) scale(0.975 1)" font-size="46.8" text-anchor="middle" fill="#111111" stroke="#111111" stroke-width="0.55" >10</text>
<text transform="translate(438.1 1374.5) scale(0.975 1)" font-size="46.8" text-anchor="middle" fill="#111111" stroke="#111111" stroke-width="0.55" >20</text>
<text transform="translate(571.4 1374.5) scale(0.975 1)" font-size="46.8" text-anchor="middle" fill="#111111" stroke="#111111" stroke-width="0.55" >30</text>
<text transform="translate(704.7 1374.5) scale(0.975 1)" font-size="46.8" text-anchor="middle" fill="#111111" stroke="#111111" stroke-width="0.55" >40</text>
<text transform="translate(838.1 1374.5) scale(0.975 1)" font-size="46.8" text-anchor="middle" fill="#111111" stroke="#111111" stroke-width="0.55" >50</text>
<text transform="translate(971.4 1374.5) scale(0.975 1)" font-size="46.8" text-anchor="middle" fill="#111111" stroke="#111111" stroke-width="0.55" >60</text>
<text transform="translate(578.2 1426.6) scale(0.975 1)" font-size="46.8" text-anchor="middle" fill="#111111" stroke="#111111" stroke-width="0.55" >Time / s</text>
<text transform="translate(3.0 48.5) scale(0.978 1)" font-size="45.2" text-anchor="start" fill="#111111" stroke="#111111" stroke-width="0.55" >(a)</text>
<text transform="translate(3.0 376.6) scale(0.978 1)" font-size="45.2" text-anchor="start" fill="#111111" stroke="#111111" stroke-width="0.55" >(b)</text>
<text transform="translate(3.0 711.0) scale(0.978 1)" font-size="45.2" text-anchor="start" fill="#111111" stroke="#111111" stroke-width="0.55" >(c)</text>
<text transform="translate(3.8 1048.0) scale(0.978 1)" font-size="45.2" text-anchor="start" fill="#111111" stroke="#111111" stroke-width="0.55" >(d)</text>
<text transform="translate(42.0 170.8) rotate(-90) scale(0.935 1)" font-size="46.6" text-anchor="middle" fill="#111111" stroke="#111111" stroke-width="0.55"><tspan font-style="italic">E</tspan> / V</text>
<text transform="translate(39.0 519.0) rotate(-90) scale(0.992 1)" font-size="46.6" text-anchor="middle" fill="#111111" stroke="#111111" stroke-width="0.55">Δ<tspan font-style="italic">f</tspan><tspan font-style="italic" font-size="31" dy="7">m</tspan><tspan dy="-7"> / kHz</tspan></text>
<text transform="translate(41.5 848.0) rotate(-90) scale(0.990 1)" font-size="46.6" text-anchor="middle" fill="#111111" stroke="#111111" stroke-width="0.55">Δ<tspan font-style="italic">R</tspan> / Ω</text>
<text transform="translate(42.5 1167.7) rotate(-90) scale(0.968 1)" font-size="46.6" text-anchor="middle" fill="#111111" stroke="#111111" stroke-width="0.55"><tspan font-style="italic">η</tspan> / %</text>
</svg>
</body></html>
